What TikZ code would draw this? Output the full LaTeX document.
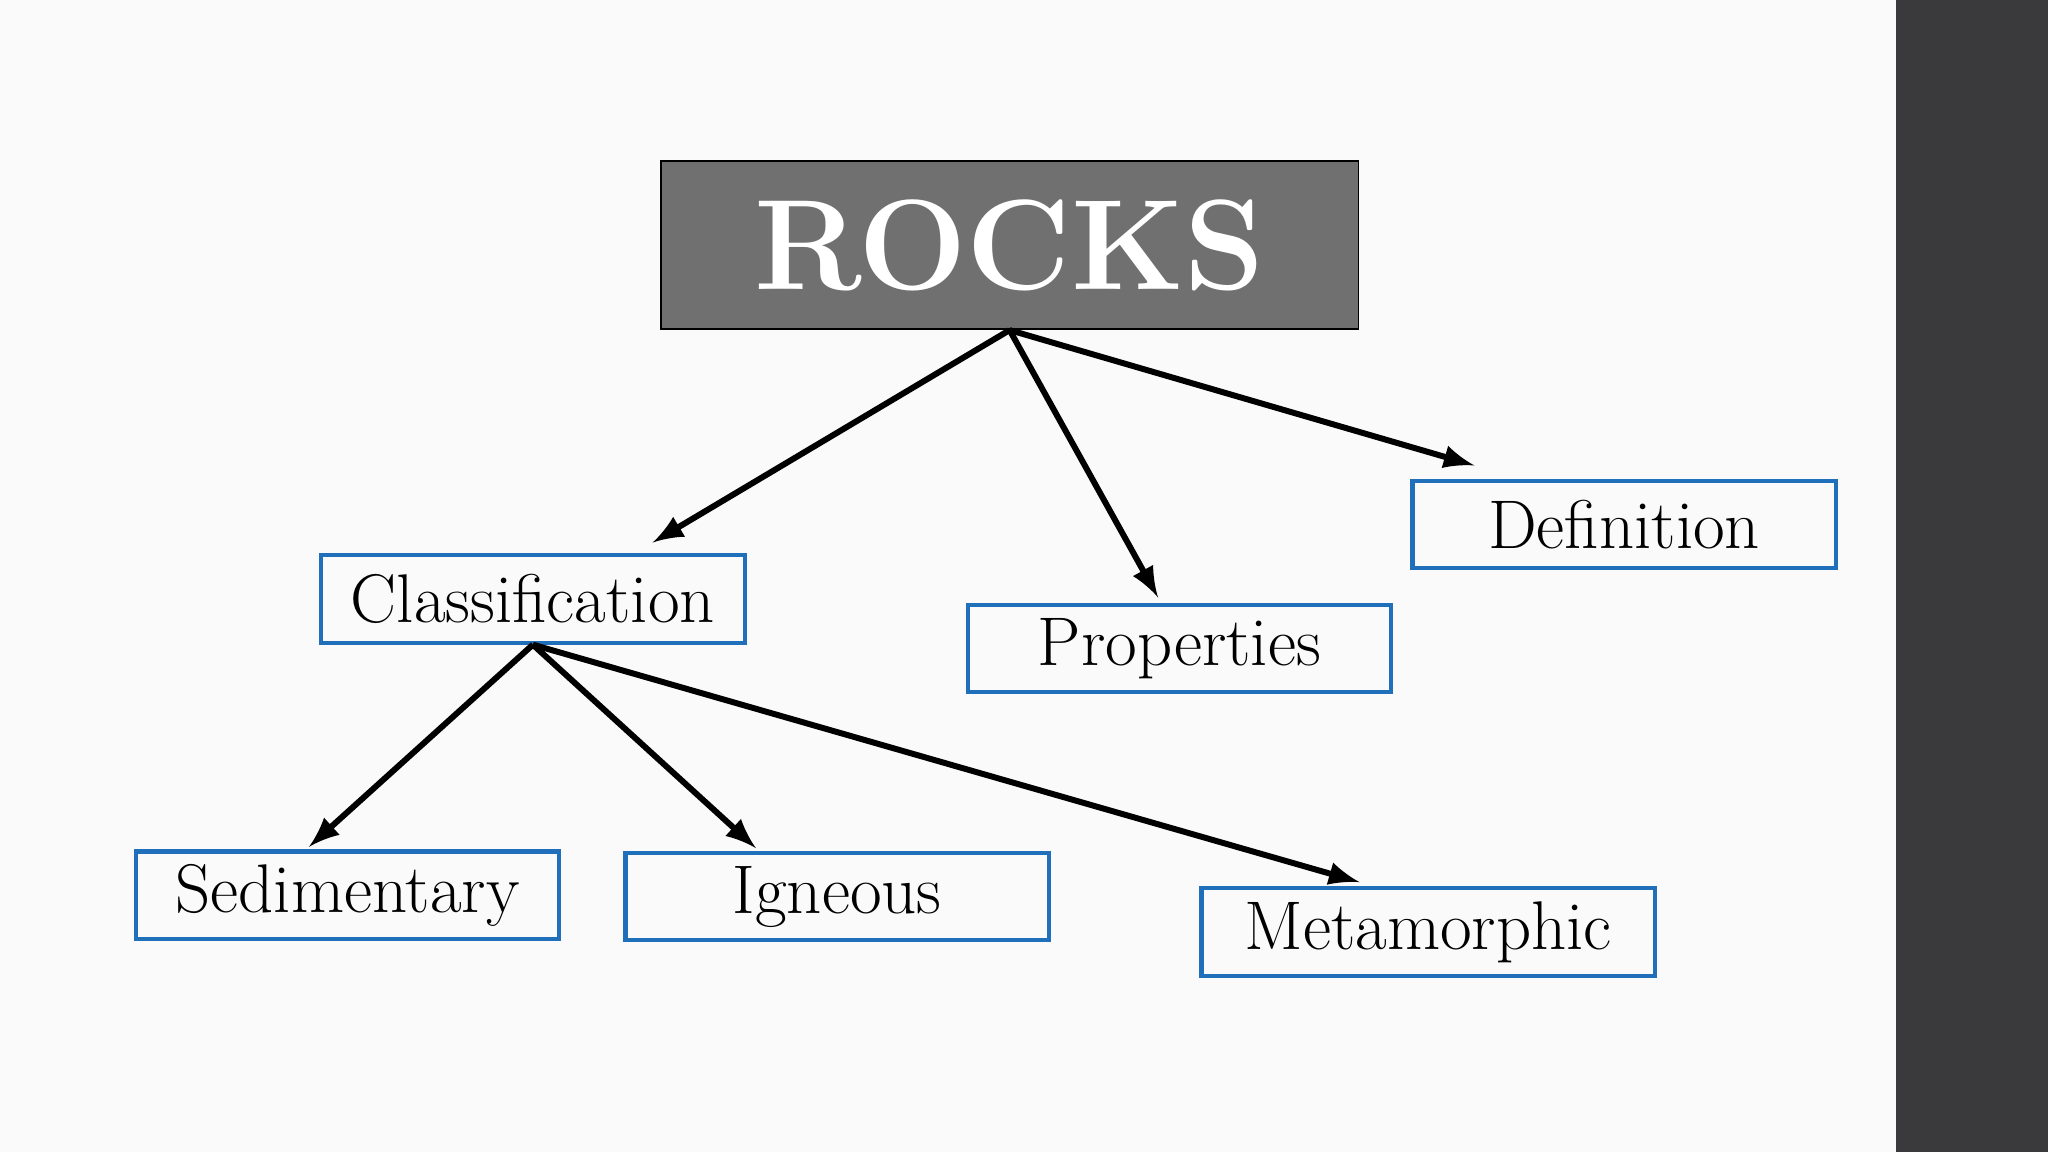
\documentclass[tikz,border=0pt]{standalone}
\usetikzlibrary{arrows,calc}
\tikzset{>=latex}
\definecolor{boxblue}{HTML}{1F6FBA}
\definecolor{bandgray}{HTML}{3A3A3C}
\definecolor{rockgray}{HTML}{707070}
\begin{document}
\begin{tikzpicture}[x=0.01cm, y=-0.01cm]
                        % background and side band
                        \fill[white!98!black] (0,0) rectangle (1568,882);
                        \fill[bandgray] (1452,0) rectangle (1568,882);
                        \useasboundingbox (0,0) rectangle (1568,882);
                        \tikzstyle{topic}=[draw=boxblue, line width=0.9pt, fill=white!98!black, minimum width=3.24cm, minimum height=0.67cm, inner sep=0pt, font=\fontsize{15}{15}\selectfont]
                        \tikzstyle{link}=[black, ->, line width=1.3pt]
                        \node[draw=black, fill=rockgray, text=white, minimum width=5.34cm, minimum height=1.29cm, inner sep=0pt, font=\fontsize{28}{28}\selectfont\bfseries] (R) at (773,187.5) {ROCKS};
                        \node[topic] (C) at (408,458.5) {Classification};
                        \node[topic] (P) at (903,496.5) {Properties};
                        \node[topic] (D) at (1243.5,401.5) {Definition};
                        \node[topic] (S) at (266,685.5) {Sedimentary};
                        \node[topic] (I) at (641,686.5) {Igneous};
                        \node[topic, minimum width=3.47cm] (M) at (1093.5,713.5) {Metamorphic};

                        \draw[link] (R.south) to ($(C.north west)!0.78!(C.north east)+(0,-8)$);
                        \draw[link] (R.south) to ($(P.north west)!0.45!(P.north east)+(0,-4)$);
                        \draw[link] (R.south) to ($(D.north west)!0.15!(D.north east)+(0,-10)$);
                        \draw[link] (C.south) to ($(S.north west)!0.41!(S.north east)+(0,-2)$);
                        \draw[link] (C.south) to ($(I.north west)!0.31!(I.north east)+(0,-2)$);
                        \draw[link] (C.south) to ($(M.north west)!0.35!(M.north east)+(0,-3)$);
                \end{tikzpicture}
\end{document}
